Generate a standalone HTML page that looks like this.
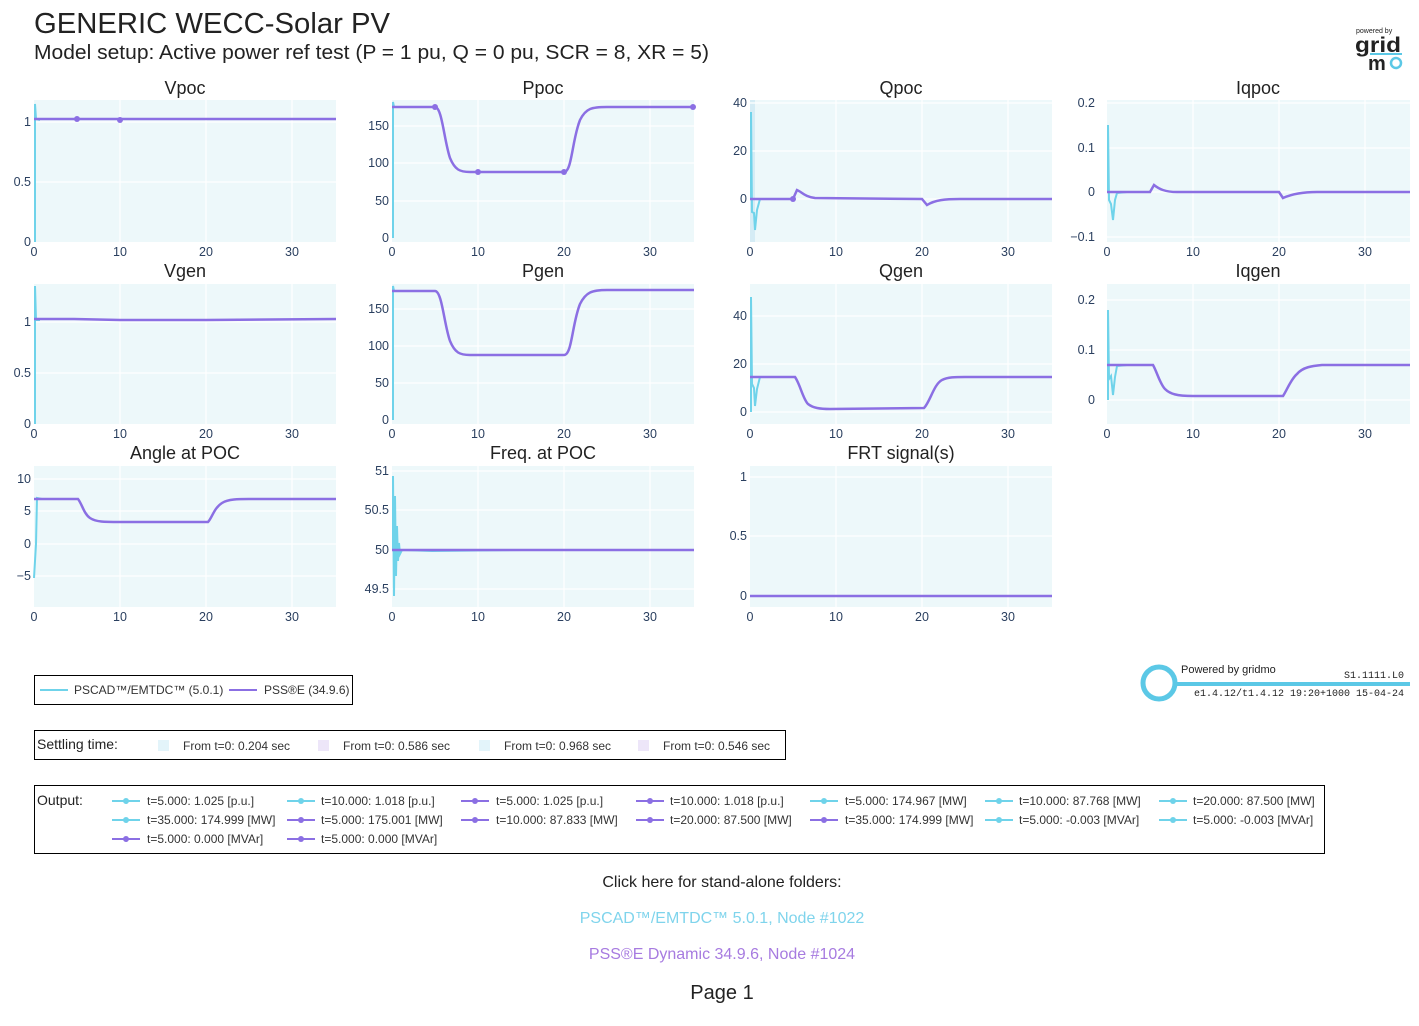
<!DOCTYPE html>
<html><head><meta charset="utf-8"><style>
html,body{margin:0;padding:0;background:#fff;}
svg{display:block;font-family:"Liberation Sans",sans-serif;}
.tk{font-size:12.5px;fill:#2a3f5f;}
.tt{font-size:18px;fill:#222;text-anchor:middle;}
.cy{fill:none;stroke:#6fd3ea;stroke-width:2;}
.pu{fill:none;stroke:#8b6fe3;stroke-width:2.5;}
.gr{stroke:#fff;stroke-width:1.3;}
.lg{font-size:12px;fill:#333;}
</style></head><body>
<svg width="1419" height="1026" viewBox="0 0 1419 1026" xmlns="http://www.w3.org/2000/svg">
<text x="34" y="33" font-size="29" fill="#222" textLength="356" lengthAdjust="spacingAndGlyphs">GENERIC WECC-Solar PV</text>
<text x="34" y="59" font-size="20" fill="#222" textLength="675" lengthAdjust="spacingAndGlyphs">Model setup: Active power ref test (P = 1 pu, Q = 0 pu, SCR = 8, XR = 5)</text>
<!-- logo -->
<text x="1356" y="33" font-size="7" fill="#222">powered by</text>
<text x="1355" y="52" font-size="21" font-weight="bold" fill="#222" textLength="46" lengthAdjust="spacingAndGlyphs">grid</text>
<text x="1368" y="70" font-size="20" font-weight="bold" fill="#222">m</text>
<circle cx="1396" cy="63" r="5" fill="none" stroke="#5bc8e6" stroke-width="2.5"/>
<line x1="1370" y1="54" x2="1402" y2="54" stroke="#5bc8e6" stroke-width="2"/>

<!-- Row titles -->
<text class="tt" x="185" y="94">Vpoc</text><text class="tt" x="543" y="94">Ppoc</text><text class="tt" x="901" y="94">Qpoc</text><text class="tt" x="1258" y="94">Iqpoc</text>
<text class="tt" x="185" y="277">Vgen</text><text class="tt" x="543" y="277">Pgen</text><text class="tt" x="901" y="277">Qgen</text><text class="tt" x="1258" y="277">Iqgen</text>
<text class="tt" x="185" y="459">Angle at POC</text><text class="tt" x="543" y="459">Freq. at POC</text><text class="tt" x="901" y="459">FRT signal(s)</text>

<!-- Vpoc -->
<g transform="translate(34,100)">
<rect width="302" height="142" fill="#edf8fa"/>
<line class="gr" x1="86" y1="0" x2="86" y2="142"/><line class="gr" x1="172" y1="0" x2="172" y2="142"/><line class="gr" x1="258" y1="0" x2="258" y2="142"/>
<line class="gr" x1="0" y1="82" x2="302" y2="82"/><line class="gr" x1="0" y1="22" x2="302" y2="22"/>
<path class="cy" d="M1,142 L1,4 L2,19 L6,20"/>
<path class="pu" d="M0,19 L302,19"/>
<circle cx="43" cy="19" r="3" fill="#8b6fe3"/><circle cx="86" cy="20" r="3" fill="#8b6fe3"/>
<text class="tk" x="-3" y="26" text-anchor="end">1</text><text class="tk" x="-3" y="86" text-anchor="end">0.5</text><text class="tk" x="-3" y="146" text-anchor="end">0</text>
<text class="tk" x="0" y="156" text-anchor="middle">0</text><text class="tk" x="86" y="156" text-anchor="middle">10</text><text class="tk" x="172" y="156" text-anchor="middle">20</text><text class="tk" x="258" y="156" text-anchor="middle">30</text>
</g>
<!-- Ppoc -->
<g transform="translate(392,100)">
<rect width="302" height="142" fill="#edf8fa"/>
<line class="gr" x1="86" y1="0" x2="86" y2="142"/><line class="gr" x1="172" y1="0" x2="172" y2="142"/><line class="gr" x1="258" y1="0" x2="258" y2="142"/>
<line class="gr" x1="0" y1="101" x2="302" y2="101"/><line class="gr" x1="0" y1="63" x2="302" y2="63"/><line class="gr" x1="0" y1="26" x2="302" y2="26"/>
<path class="cy" d="M1,138 L1,2 L2,7 L6,7"/>
<path class="pu" d="M0,7 L43,7 C50,7 52,40 58,58 C63,70 68,72 78,72 L172,72 C180,72 180,40 188,20 C194,8 200,7 215,7 L302,7"/>
<circle cx="43" cy="7" r="3" fill="#8b6fe3"/><circle cx="86" cy="72" r="3" fill="#8b6fe3"/><circle cx="172" cy="72" r="3" fill="#8b6fe3"/><circle cx="301" cy="7" r="3" fill="#8b6fe3"/>
<text class="tk" x="-3" y="30" text-anchor="end">150</text><text class="tk" x="-3" y="67" text-anchor="end">100</text><text class="tk" x="-3" y="105" text-anchor="end">50</text><text class="tk" x="-3" y="142" text-anchor="end">0</text>
<text class="tk" x="0" y="156" text-anchor="middle">0</text><text class="tk" x="86" y="156" text-anchor="middle">10</text><text class="tk" x="172" y="156" text-anchor="middle">20</text><text class="tk" x="258" y="156" text-anchor="middle">30</text>
</g>
<!-- Qpoc -->
<g transform="translate(750,100)">
<rect width="302" height="142" fill="#edf8fa"/>
<rect width="5" height="142" fill="#d5ecf5"/>
<line class="gr" x1="86" y1="0" x2="86" y2="142"/><line class="gr" x1="172" y1="0" x2="172" y2="142"/><line class="gr" x1="258" y1="0" x2="258" y2="142"/>
<line class="gr" x1="0" y1="99" x2="302" y2="99"/><line class="gr" x1="0" y1="51" x2="302" y2="51"/><line class="gr" x1="0" y1="3" x2="302" y2="3"/>
<path class="cy" d="M1,99 L1,12 L2,112 L4,113 L5,130 L7,110 L10,99 L20,99"/>
<path class="pu" d="M0,99 L43,99 L47,90 C52,92 55,97 65,98 L172,99 L177,105 C185,100 195,99 210,99 L302,99"/>
<circle cx="43" cy="99" r="3" fill="#8b6fe3"/>
<text class="tk" x="-3" y="7" text-anchor="end">40</text><text class="tk" x="-3" y="55" text-anchor="end">20</text><text class="tk" x="-3" y="103" text-anchor="end">0</text>
<text class="tk" x="0" y="156" text-anchor="middle">0</text><text class="tk" x="86" y="156" text-anchor="middle">10</text><text class="tk" x="172" y="156" text-anchor="middle">20</text><text class="tk" x="258" y="156" text-anchor="middle">30</text>
</g>
<!-- Iqpoc -->
<g transform="translate(1107,100)">
<rect width="303" height="142" fill="#edf8fa"/>
<line class="gr" x1="86" y1="0" x2="86" y2="142"/><line class="gr" x1="172" y1="0" x2="172" y2="142"/><line class="gr" x1="258" y1="0" x2="258" y2="142"/>
<line class="gr" x1="0" y1="137" x2="303" y2="137"/><line class="gr" x1="0" y1="92" x2="303" y2="92"/><line class="gr" x1="0" y1="48" x2="303" y2="48"/><line class="gr" x1="0" y1="3" x2="303" y2="3"/>
<path class="cy" d="M1,92 L1,25 L2,100 L4,104 L6,120 L8,100 L10,93 L20,92"/>
<path class="pu" d="M0,92 L43,92 L47,85 C52,89 58,92 70,92 L172,92 L176,98 C185,94 195,92 210,92 L303,92"/>
<text class="tk" x="-12" y="7" text-anchor="end">0.2</text><text class="tk" x="-12" y="52" text-anchor="end">0.1</text><text class="tk" x="-12" y="96" text-anchor="end">0</text><text class="tk" x="-12" y="141" text-anchor="end">−0.1</text>
<text class="tk" x="0" y="156" text-anchor="middle">0</text><text class="tk" x="86" y="156" text-anchor="middle">10</text><text class="tk" x="172" y="156" text-anchor="middle">20</text><text class="tk" x="258" y="156" text-anchor="middle">30</text>
</g>

<!-- Vgen -->
<g transform="translate(34,284)">
<rect width="302" height="140" fill="#edf8fa"/>
<line class="gr" x1="86" y1="0" x2="86" y2="140"/><line class="gr" x1="172" y1="0" x2="172" y2="140"/><line class="gr" x1="258" y1="0" x2="258" y2="140"/>
<line class="gr" x1="0" y1="89" x2="302" y2="89"/><line class="gr" x1="0" y1="38" x2="302" y2="38"/>
<path class="cy" d="M1,140 L1,2 L2,36 L6,36"/>
<path class="pu" d="M0,35 L40,35 L86,36 L172,36 L302,35"/>
<text class="tk" x="-3" y="42" text-anchor="end">1</text><text class="tk" x="-3" y="93" text-anchor="end">0.5</text><text class="tk" x="-3" y="144" text-anchor="end">0</text>
<text class="tk" x="0" y="154" text-anchor="middle">0</text><text class="tk" x="86" y="154" text-anchor="middle">10</text><text class="tk" x="172" y="154" text-anchor="middle">20</text><text class="tk" x="258" y="154" text-anchor="middle">30</text>
</g>
<!-- Pgen -->
<g transform="translate(392,284)">
<rect width="302" height="140" fill="#edf8fa"/>
<line class="gr" x1="86" y1="0" x2="86" y2="140"/><line class="gr" x1="172" y1="0" x2="172" y2="140"/><line class="gr" x1="258" y1="0" x2="258" y2="140"/>
<line class="gr" x1="0" y1="99" x2="302" y2="99"/><line class="gr" x1="0" y1="62" x2="302" y2="62"/><line class="gr" x1="0" y1="25" x2="302" y2="25"/>
<path class="cy" d="M1,136 L1,2 L2,7 L6,7"/>
<path class="pu" d="M0,7 L43,7 C50,7 52,40 58,57 C63,69 68,71 78,71 L172,71 C180,71 180,40 188,20 C194,8 200,6 215,6 L302,6"/>
<text class="tk" x="-3" y="29" text-anchor="end">150</text><text class="tk" x="-3" y="66" text-anchor="end">100</text><text class="tk" x="-3" y="103" text-anchor="end">50</text><text class="tk" x="-3" y="140" text-anchor="end">0</text>
<text class="tk" x="0" y="154" text-anchor="middle">0</text><text class="tk" x="86" y="154" text-anchor="middle">10</text><text class="tk" x="172" y="154" text-anchor="middle">20</text><text class="tk" x="258" y="154" text-anchor="middle">30</text>
</g>
<!-- Qgen -->
<g transform="translate(750,284)">
<rect width="302" height="140" fill="#edf8fa"/>
<line class="gr" x1="86" y1="0" x2="86" y2="140"/><line class="gr" x1="172" y1="0" x2="172" y2="140"/><line class="gr" x1="258" y1="0" x2="258" y2="140"/>
<line class="gr" x1="0" y1="128" x2="302" y2="128"/><line class="gr" x1="0" y1="80" x2="302" y2="80"/><line class="gr" x1="0" y1="32" x2="302" y2="32"/>
<path class="cy" d="M1,128 L1,13 L2,100 L4,104 L5,122 L7,105 L10,93 L20,93"/>
<path class="pu" d="M0,93 L45,93 C50,100 53,115 58,120 C63,124 70,125 80,125 L174,124 C180,118 184,100 192,96 C198,93 205,93 215,93 L302,93"/>
<text class="tk" x="-3" y="36" text-anchor="end">40</text><text class="tk" x="-3" y="84" text-anchor="end">20</text><text class="tk" x="-3" y="132" text-anchor="end">0</text>
<text class="tk" x="0" y="154" text-anchor="middle">0</text><text class="tk" x="86" y="154" text-anchor="middle">10</text><text class="tk" x="172" y="154" text-anchor="middle">20</text><text class="tk" x="258" y="154" text-anchor="middle">30</text>
</g>
<!-- Iqgen -->
<g transform="translate(1107,284)">
<rect width="303" height="140" fill="#edf8fa"/>
<line class="gr" x1="86" y1="0" x2="86" y2="140"/><line class="gr" x1="172" y1="0" x2="172" y2="140"/><line class="gr" x1="258" y1="0" x2="258" y2="140"/>
<line class="gr" x1="0" y1="116" x2="303" y2="116"/><line class="gr" x1="0" y1="66" x2="303" y2="66"/><line class="gr" x1="0" y1="16" x2="303" y2="16"/>
<path class="cy" d="M1,116 L1,26 L2,95 L4,92 L6,111 L8,93 L10,82 L20,81"/>
<path class="pu" d="M0,81 L46,81 C50,88 53,100 58,105 C63,110 70,112 86,112 L176,112 C180,106 184,95 190,90 C196,83 205,82 215,81 L303,81"/>
<text class="tk" x="-12" y="20" text-anchor="end">0.2</text><text class="tk" x="-12" y="70" text-anchor="end">0.1</text><text class="tk" x="-12" y="120" text-anchor="end">0</text>
<text class="tk" x="0" y="154" text-anchor="middle">0</text><text class="tk" x="86" y="154" text-anchor="middle">10</text><text class="tk" x="172" y="154" text-anchor="middle">20</text><text class="tk" x="258" y="154" text-anchor="middle">30</text>
</g>

<!-- Angle -->
<g transform="translate(34,466)">
<rect width="302" height="141" fill="#edf8fa"/>
<line class="gr" x1="86" y1="0" x2="86" y2="141"/><line class="gr" x1="172" y1="0" x2="172" y2="141"/><line class="gr" x1="258" y1="0" x2="258" y2="141"/>
<line class="gr" x1="0" y1="13" x2="302" y2="13"/><line class="gr" x1="0" y1="45" x2="302" y2="45"/><line class="gr" x1="0" y1="78" x2="302" y2="78"/><line class="gr" x1="0" y1="110" x2="302" y2="110"/>
<path class="cy" d="M0,112 L2,78 L3,32 L8,33"/>
<path class="pu" d="M0,33 L44,33 C48,38 50,48 56,52 C62,56 70,56 86,56 L174,56 C178,52 180,42 188,37 C194,33 205,33 215,33 L302,33"/>
<text class="tk" x="-3" y="17" text-anchor="end">10</text><text class="tk" x="-3" y="49" text-anchor="end">5</text><text class="tk" x="-3" y="82" text-anchor="end">0</text><text class="tk" x="-3" y="114" text-anchor="end">−5</text>
<text class="tk" x="0" y="155" text-anchor="middle">0</text><text class="tk" x="86" y="155" text-anchor="middle">10</text><text class="tk" x="172" y="155" text-anchor="middle">20</text><text class="tk" x="258" y="155" text-anchor="middle">30</text>
</g>
<!-- Freq -->
<g transform="translate(392,466)">
<rect width="302" height="141" fill="#edf8fa"/>
<line class="gr" x1="86" y1="0" x2="86" y2="141"/><line class="gr" x1="172" y1="0" x2="172" y2="141"/><line class="gr" x1="258" y1="0" x2="258" y2="141"/>
<line class="gr" x1="0" y1="5" x2="302" y2="5"/><line class="gr" x1="0" y1="44" x2="302" y2="44"/><line class="gr" x1="0" y1="84" x2="302" y2="84"/><line class="gr" x1="0" y1="123" x2="302" y2="123"/>
<path class="cy" d="M1,84 L1,10 L2,130 L3,30 L4,110 L5,60 L6,95 L7,77 L8,88 L10,84 L40,85 L130,84"/>
<path class="pu" d="M0,84 L302,84"/>
<text class="tk" x="-3" y="9" text-anchor="end">51</text><text class="tk" x="-3" y="48" text-anchor="end">50.5</text><text class="tk" x="-3" y="88" text-anchor="end">50</text><text class="tk" x="-3" y="127" text-anchor="end">49.5</text>
<text class="tk" x="0" y="155" text-anchor="middle">0</text><text class="tk" x="86" y="155" text-anchor="middle">10</text><text class="tk" x="172" y="155" text-anchor="middle">20</text><text class="tk" x="258" y="155" text-anchor="middle">30</text>
</g>
<!-- FRT -->
<g transform="translate(750,466)">
<rect width="302" height="141" fill="#edf8fa"/>
<line class="gr" x1="86" y1="0" x2="86" y2="141"/><line class="gr" x1="172" y1="0" x2="172" y2="141"/><line class="gr" x1="258" y1="0" x2="258" y2="141"/>
<line class="gr" x1="0" y1="11" x2="302" y2="11"/><line class="gr" x1="0" y1="70" x2="302" y2="70"/>
<path class="cy" d="M0,130 L302,130"/>
<path class="pu" d="M0,130 L302,130"/>
<text class="tk" x="-3" y="15" text-anchor="end">1</text><text class="tk" x="-3" y="74" text-anchor="end">0.5</text><text class="tk" x="-3" y="134" text-anchor="end">0</text>
<text class="tk" x="0" y="155" text-anchor="middle">0</text><text class="tk" x="86" y="155" text-anchor="middle">10</text><text class="tk" x="172" y="155" text-anchor="middle">20</text><text class="tk" x="258" y="155" text-anchor="middle">30</text>
</g>

<!-- legend -->
<rect x="34.5" y="675.5" width="318" height="29" fill="none" stroke="#000"/>
<line x1="40" y1="690" x2="68" y2="690" stroke="#6fd3ea" stroke-width="2"/>
<text class="lg" x="74" y="694">PSCAD™/EMTDC™ (5.0.1)</text>
<line x1="229" y1="690" x2="257" y2="690" stroke="#8b6fe3" stroke-width="2"/>
<text class="lg" x="264" y="694">PSS®E (34.9.6)</text>

<!-- gridmo stamp -->
<circle cx="1159" cy="683" r="16" fill="none" stroke="#5bc8e6" stroke-width="5"/>
<line x1="1175" y1="684" x2="1410" y2="684" stroke="#5bc8e6" stroke-width="4"/>
<text x="1181" y="673" font-size="11" fill="#222">Powered by gridmo</text>
<text x="1404" y="678" font-size="10" fill="#222" font-family="Liberation Mono,monospace" text-anchor="end">S1.1111.L0</text>
<text x="1404" y="696" font-size="10" fill="#222" font-family="Liberation Mono,monospace" text-anchor="end">e1.4.12/t1.4.12 19:20+1000 15-04-24</text>

<!-- settling -->
<rect x="34.5" y="730.5" width="751" height="29" fill="none" stroke="#000"/>
<text x="37" y="749" font-size="14" fill="#222">Settling time:</text>
<rect x="158" y="740" width="11" height="11" fill="#e3f4fa"/><text class="lg" x="183" y="750">From t=0: 0.204 sec</text>
<rect x="318" y="740" width="11" height="11" fill="#ede6f9"/><text class="lg" x="343" y="750">From t=0: 0.586 sec</text>
<rect x="479" y="740" width="11" height="11" fill="#e3f4fa"/><text class="lg" x="504" y="750">From t=0: 0.968 sec</text>
<rect x="638" y="740" width="11" height="11" fill="#ede6f9"/><text class="lg" x="663" y="750">From t=0: 0.546 sec</text>

<!-- output -->
<rect x="34.5" y="785.5" width="1290" height="68" fill="none" stroke="#000"/>
<text x="37" y="805" font-size="14" fill="#222">Output:</text>
<g font-size="12" fill="#333">
<g stroke-width="2">
<line x1="112" y1="801" x2="140" y2="801" stroke="#6fd3ea"/><line x1="287" y1="801" x2="315" y2="801" stroke="#6fd3ea"/><line x1="461" y1="801" x2="489" y2="801" stroke="#8b6fe3"/><line x1="636" y1="801" x2="664" y2="801" stroke="#8b6fe3"/><line x1="810" y1="801" x2="838" y2="801" stroke="#6fd3ea"/><line x1="985" y1="801" x2="1013" y2="801" stroke="#6fd3ea"/><line x1="1159" y1="801" x2="1187" y2="801" stroke="#6fd3ea"/>
<line x1="112" y1="820" x2="140" y2="820" stroke="#6fd3ea"/><line x1="287" y1="820" x2="315" y2="820" stroke="#8b6fe3"/><line x1="461" y1="820" x2="489" y2="820" stroke="#8b6fe3"/><line x1="636" y1="820" x2="664" y2="820" stroke="#8b6fe3"/><line x1="810" y1="820" x2="838" y2="820" stroke="#8b6fe3"/><line x1="985" y1="820" x2="1013" y2="820" stroke="#6fd3ea"/><line x1="1159" y1="820" x2="1187" y2="820" stroke="#6fd3ea"/>
<line x1="112" y1="839" x2="140" y2="839" stroke="#8b6fe3"/><line x1="287" y1="839" x2="315" y2="839" stroke="#8b6fe3"/>
</g>
<circle cx="126" cy="801" r="3" fill="#6fd3ea"/><circle cx="301" cy="801" r="3" fill="#6fd3ea"/><circle cx="475" cy="801" r="3" fill="#8b6fe3"/><circle cx="650" cy="801" r="3" fill="#8b6fe3"/><circle cx="824" cy="801" r="3" fill="#6fd3ea"/><circle cx="999" cy="801" r="3" fill="#6fd3ea"/><circle cx="1173" cy="801" r="3" fill="#6fd3ea"/>
<circle cx="126" cy="820" r="3" fill="#6fd3ea"/><circle cx="301" cy="820" r="3" fill="#8b6fe3"/><circle cx="475" cy="820" r="3" fill="#8b6fe3"/><circle cx="650" cy="820" r="3" fill="#8b6fe3"/><circle cx="824" cy="820" r="3" fill="#8b6fe3"/><circle cx="999" cy="820" r="3" fill="#6fd3ea"/><circle cx="1173" cy="820" r="3" fill="#6fd3ea"/>
<circle cx="126" cy="839" r="3" fill="#8b6fe3"/><circle cx="301" cy="839" r="3" fill="#8b6fe3"/>
<text x="147" y="805">t=5.000: 1.025 [p.u.]</text><text x="321" y="805">t=10.000: 1.018 [p.u.]</text><text x="496" y="805">t=5.000: 1.025 [p.u.]</text><text x="670" y="805">t=10.000: 1.018 [p.u.]</text><text x="845" y="805">t=5.000: 174.967 [MW]</text><text x="1019" y="805">t=10.000: 87.768 [MW]</text><text x="1193" y="805">t=20.000: 87.500 [MW]</text>
<text x="147" y="824">t=35.000: 174.999 [MW]</text><text x="321" y="824">t=5.000: 175.001 [MW]</text><text x="496" y="824">t=10.000: 87.833 [MW]</text><text x="670" y="824">t=20.000: 87.500 [MW]</text><text x="845" y="824">t=35.000: 174.999 [MW]</text><text x="1019" y="824">t=5.000: -0.003 [MVAr]</text><text x="1193" y="824">t=5.000: -0.003 [MVAr]</text>
<text x="147" y="843">t=5.000: 0.000 [MVAr]</text><text x="321" y="843">t=5.000: 0.000 [MVAr]</text>
</g>

<text x="722" y="887" font-size="16" fill="#222" text-anchor="middle">Click here for stand-alone folders:</text>
<text x="722" y="923" font-size="16" fill="#7fd4ec" text-anchor="middle">PSCAD™/EMTDC™ 5.0.1, Node #1022</text>
<text x="722" y="959" font-size="16" fill="#a77be0" text-anchor="middle">PSS®E Dynamic 34.9.6, Node #1024</text>
<text x="722" y="999" font-size="20" fill="#222" text-anchor="middle">Page 1</text>
</svg>
</body></html>
